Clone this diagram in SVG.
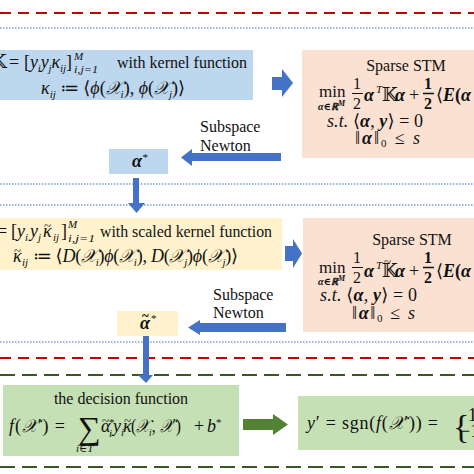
<svg xmlns="http://www.w3.org/2000/svg" width="474" height="474" viewBox="0 0 474 474">
<style>
text{font-family:"Liberation Serif","DejaVu Serif",serif;fill:#111;}
.t{font-size:16px;}
.m{font-size:18px;}
.i{font-style:italic;}
.b{font-weight:bold;}
.s{font-size:11px;}
.tl{font-size:13px;}
.red{stroke:#C00000;stroke-width:2;stroke-dasharray:11 7;fill:none;}
.grn{stroke:#385723;stroke-width:2;stroke-dasharray:15 7;fill:none;}
.dot{stroke:#7E9CCF;stroke-width:1.3;stroke-dasharray:1.5 1.5;fill:none;}
.blue{fill:#4472C4;}
.green{fill:#548235;}
.bar{stroke:#111;stroke-width:1;}
</style>
<rect width="474" height="474" fill="#fff"/>
<g id="separators">
<line class="red" x1="0" y1="13" x2="474" y2="13"/>
<line class="dot" x1="0" y1="28" x2="474" y2="28"/>
<line class="dot" x1="0" y1="184" x2="474" y2="184"/>
<line class="dot" x1="0" y1="205" x2="474" y2="205"/>
<line class="dot" x1="0" y1="342" x2="474" y2="342"/>
<line class="red" x1="0" y1="358" x2="474" y2="358"/>
<line class="grn" x1="0" y1="375" x2="474" y2="375"/>
<line class="grn" x1="0" y1="467" x2="474" y2="467"/>
</g>
<g id="kernel-box">
<rect x="0" y="50" width="253" height="50" fill="#BDD7EE"/>
<text class="m" x="-9" y="68">𝕂</text>
<text class="m" x="9" y="68">=</text>
<text class="m" x="24" y="68" textLength="48" lengthAdjust="spacing">[<tspan class="i">y</tspan><tspan class="s i" dy="4">i</tspan><tspan class="i" dy="-4">y</tspan><tspan class="s i" dy="4">j</tspan><tspan class="i" dy="-4">κ</tspan><tspan class="s i" dy="4">ij</tspan><tspan dy="-4">]</tspan></text>
<text class="s i" x="74" y="60">M</text>
<text class="s i" x="74" y="73" textLength="24" lengthAdjust="spacingAndGlyphs">i,j=1</text>
<text class="t" x="117" y="68" textLength="130" lengthAdjust="spacingAndGlyphs">with kernel function</text>
<text class="m" x="41" y="94" textLength="144" lengthAdjust="spacing"><tspan class="i">κ</tspan><tspan class="s i" dy="4">ij</tspan><tspan dy="-4"> ≔ ⟨</tspan><tspan class="i">ϕ</tspan>(<tspan class="i">𝒳</tspan><tspan class="s i" dy="4">i</tspan><tspan dy="-4">), </tspan><tspan class="i">ϕ</tspan>(<tspan class="i">𝒳</tspan><tspan class="s i" dy="4">j</tspan><tspan dy="-4">)⟩</tspan></text>
</g>
<g id="stm-box-1">
<rect x="302" y="50" width="172" height="108" fill="#FAE1D2"/>
<text class="t" x="406" y="71" text-anchor="middle">Sparse STM</text>
<text class="t" x="319" y="97" style="font-size:17px">min</text>
<text class="s b i" x="318" y="110" style="font-size:10px">α∈ℝ<tspan dy="-4" style="font-size:8px">M</tspan></text>
<text class="t" x="357" y="89" text-anchor="middle">1</text>
<line class="bar" x1="352" y1="93.5" x2="363" y2="93.5"/>
<text class="t" x="357" y="109" text-anchor="middle">2</text>
<text class="m b i" x="364" y="101">α</text>
<text class="s i" x="376" y="93">T</text>
<text class="m" x="382" y="101">𝕂</text>
<text class="m b i" x="395" y="101">α</text>
<text class="m" x="409" y="101">+</text>
<text class="t b" x="428" y="89" text-anchor="middle">1</text>
<line class="bar" x1="423" y1="93.5" x2="434" y2="93.5" style="stroke-width:1.5"/>
<text class="t b" x="428" y="109" text-anchor="middle">2</text>
<text class="m" x="436" y="101">⟨<tspan class="b i">E</tspan><tspan class="b">(</tspan><tspan class="b i">α</tspan></text>
<text class="m" x="327" y="127" textLength="96" lengthAdjust="spacing"><tspan class="i">s.t.</tspan> ⟨<tspan class="b i">α</tspan>, <tspan class="b i">y</tspan>⟩ = 0</text>
<text class="m" x="355" y="144" textLength="65" lengthAdjust="spacing">‖<tspan class="b i">α</tspan>‖<tspan class="s" dy="3">0</tspan><tspan dy="-3"> ≤ </tspan><tspan class="i">s</tspan></text>
</g>
<g id="subspace-label-1">
<text class="t" x="200" y="132">Subspace</text>
<text class="t" x="200" y="151">Newton</text>
</g>
<g id="alpha-star">
<rect x="109" y="149" width="59" height="25" fill="#BDD7EE"/>
<text class="m b i" x="132" y="167">α<tspan class="s" dy="-6" style="font-weight:normal">*</tspan></text>
</g>
<g id="scaled-kernel-box">
<rect x="0" y="218" width="282" height="52" fill="#FFF2CC"/>
<text class="m" x="-20" y="237">𝕂</text>
<text class="tl" x="-17" y="226">~</text>
<text class="m" x="-3" y="237">=</text>
<text class="m" x="11" y="237">[</text>
<text class="m i" x="17" y="237">y</text>
<text class="s i" x="25" y="241">i</text>
<text class="m i" x="30" y="237">y</text>
<text class="s i" x="38" y="241">j</text>
<text class="m i" x="43" y="237">κ</text>
<text class="tl" x="44" y="230">~</text>
<text class="s i" x="53" y="241">ij</text>
<text class="m" x="61" y="237">]</text>
<text class="s i" x="68" y="228">M</text>
<text class="s i" x="68" y="242" textLength="27" lengthAdjust="spacingAndGlyphs">i,j=1</text>
<text class="t" x="100" y="237" textLength="172" lengthAdjust="spacingAndGlyphs">with scaled kernel function</text>
<text class="m i" x="13" y="262">κ</text>
<text class="tl" x="14" y="255">~</text>
<text class="s i" x="22" y="266">ij</text>
<text class="m" x="33" y="262" textLength="205" lengthAdjust="spacing">≔ ⟨<tspan class="i">D</tspan>(<tspan class="i">𝒳</tspan><tspan class="s i" dy="4">i</tspan><tspan dy="-4">)</tspan><tspan class="i">ϕ</tspan>(<tspan class="i">𝒳</tspan><tspan class="s i" dy="4">i</tspan><tspan dy="-4">), </tspan><tspan class="i">D</tspan>(<tspan class="i">𝒳</tspan><tspan class="s i" dy="4">j</tspan><tspan dy="-4">)</tspan><tspan class="i">ϕ</tspan>(<tspan class="i">𝒳</tspan><tspan class="s i" dy="4">j</tspan><tspan dy="-4">)⟩</tspan></text>
</g>
<g id="stm-box-2">
<rect x="303" y="218" width="171" height="114" fill="#FAE1D2"/>
<text class="t" x="412" y="245" text-anchor="middle">Sparse STM</text>
<text class="t" x="319" y="273" style="font-size:17px">min</text>
<text class="s b i" x="318" y="285" style="font-size:10px">α∈ℝ<tspan dy="-4" style="font-size:8px">M</tspan></text>
<text class="t" x="357" y="263" text-anchor="middle">1</text>
<line class="bar" x1="352" y1="267.5" x2="363" y2="267.5"/>
<text class="t" x="357" y="283" text-anchor="middle">2</text>
<text class="m b i" x="364" y="277">α</text>
<text class="s i" x="376" y="269">T</text>
<text class="m" x="382" y="277">𝕂</text>
<text class="tl" x="384" y="266">~</text>
<text class="m b i" x="395" y="277">α</text>
<text class="m" x="409" y="277">+</text>
<text class="t b" x="428" y="263" text-anchor="middle">1</text>
<line class="bar" x1="423" y1="267.5" x2="434" y2="267.5" style="stroke-width:1.5"/>
<text class="t b" x="428" y="283" text-anchor="middle">2</text>
<text class="m" x="436" y="277">⟨<tspan class="b i">E</tspan><tspan class="b">(</tspan><tspan class="b i">α</tspan></text>
<text class="m" x="320" y="301" textLength="97" lengthAdjust="spacing"><tspan class="i">s.t.</tspan> ⟨<tspan class="b i">α</tspan>, <tspan class="b i">y</tspan>⟩ = 0</text>
<text class="m" x="352" y="319" textLength="63" lengthAdjust="spacing">‖<tspan class="b i">α</tspan>‖<tspan class="s" dy="3">0</tspan><tspan dy="-3"> ≤ </tspan><tspan class="i">s</tspan></text>
</g>
<g id="subspace-label-2">
<text class="t" x="213" y="300">Subspace</text>
<text class="t" x="213" y="318">Newton</text>
</g>
<g id="alpha-tilde-star">
<rect x="117" y="311" width="61" height="25" fill="#FFF2CC"/>
<text class="m b i" x="140" y="329">α</text>
<text class="tl b" x="142" y="320">~</text>
<text class="s" x="151" y="322">*</text>
</g>
<g id="decision-box">
<rect x="3" y="385" width="236" height="71" fill="#C5E0B4"/>
<text class="t" x="121" y="404" text-anchor="middle">the decision function</text>
<text class="m" x="9" y="432" textLength="56" lengthAdjust="spacing"><tspan class="i">f</tspan>(<tspan class="i">𝒳</tspan>′) =</text>
<text x="78" y="439" style="font-size:32px">∑</text>
<text class="s i" x="76" y="452">i∈T<tspan dy="-4" style="font-size:8px">*</tspan></text>
<text class="m i" x="101" y="432">α</text>
<text class="tl" x="102" y="425">~</text>
<text class="s" x="109" y="426">*</text>
<text class="s i" x="109" y="437">i</text>
<text class="m i" x="113" y="432">y</text>
<text class="s i" x="121" y="436">i</text>
<text class="m i" x="123" y="432">κ</text>
<text class="tl" x="124" y="425">~</text>
<text class="m" x="131" y="432" textLength="50" lengthAdjust="spacingAndGlyphs">(<tspan class="i">𝒳</tspan><tspan class="s i" dy="4">i</tspan><tspan dy="-4">, </tspan><tspan class="i">𝒳</tspan>′)</text>
<text class="m" x="194" y="432">+</text>
<text class="m i" x="207" y="432">b</text>
<text class="s" x="216" y="426">*</text>
</g>
<g id="output-box">
<rect x="298" y="396" width="176" height="54" fill="#C5E0B4"/>
<text class="m" x="307" y="429" textLength="131" lengthAdjust="spacing"><tspan class="i">y</tspan>′ = sgn(<tspan class="i">f</tspan>(<tspan class="i">𝒳</tspan>′)) =</text>
<text x="453" y="438" style="font-size:34px">{</text>
<text class="m" x="468" y="421">1</text>
<text class="m" x="460" y="437">−1</text>
</g>
<g id="connectors">
<polygon class="blue" points="272,77 282,77 282,69 293,83 282,97 282,90 272,90"/>
<polygon class="blue" points="281,153 192,153 192,149 181,157.5 192,166 192,161 281,161"/>
<polygon class="blue" points="133,178 139,178 139,203 145,203 136.5,213 128,203 133,203"/>
<polygon class="blue" points="285,246 293,246 293,239 302,253.5 293,268 293,261 285,261"/>
<polygon class="blue" points="286,323 200,323 200,320 188,327.5 200,335 200,332 286,332"/>
<polygon class="blue" points="143,336 149,336 149,375 153,375 146,383 138,375 143,375"/>
<polygon class="green" points="243,419 273,419 273,414 288,424.5 273,435 273,430 243,430"/>
</g>
</svg>
